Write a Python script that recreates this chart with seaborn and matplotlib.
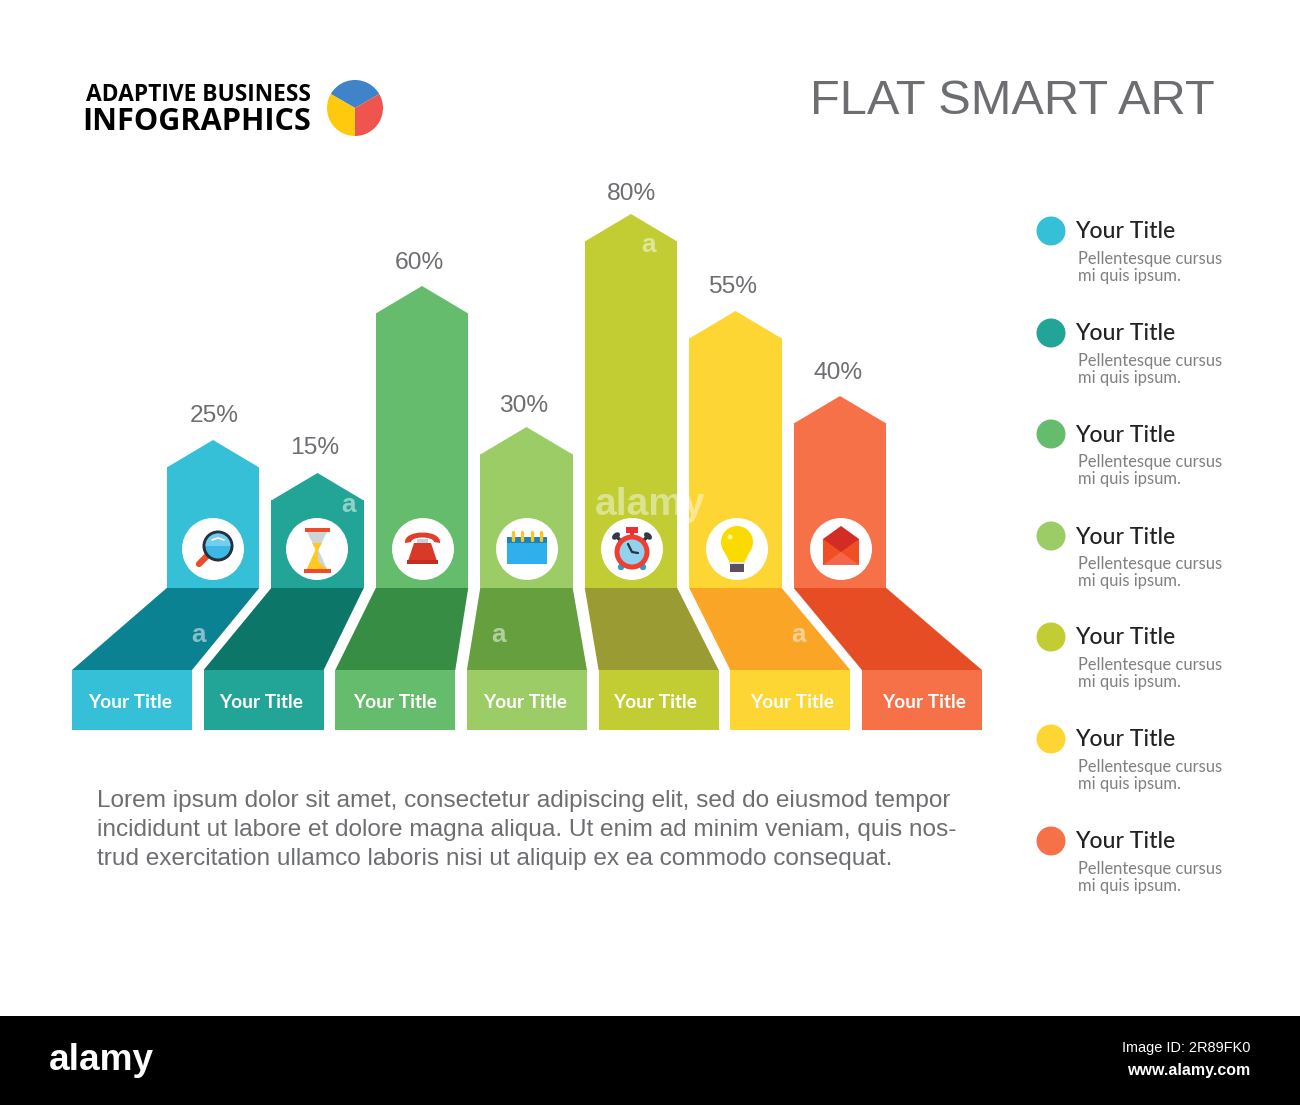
import numpy as np
import pandas as pd
import matplotlib
matplotlib.use("Agg")
import matplotlib.pyplot as plt
import seaborn as sns
from matplotlib.patches import Circle, Polygon, Rectangle, Wedge, Ellipse, PathPatch
from matplotlib.path import Path

# chart values
pct_labels = ["25%", "15%", "60%", "30%", "80%", "55%", "40%"]
# drawn arrow heights (they do not follow the percentages)
arrow_heights = [148, 115, 302, 161, 374, 277, 192]
box_titles = ["Your Title"] * 7
legend_titles = ["Your Title"] * 7
legend_line1 = ["Pellentesque cursus"] * 7
legend_line2 = ["mi quis ipsum."] * 7
body_lines = [
    "Lorem ipsum dolor sit amet, consectetur adipiscing elit, sed do eiusmod tempor",
    "incididunt ut labore et dolore magna aliqua. Ut enim ad minim veniam, quis nos-",
    "trud exercitation ullamco laboris nisi ut aliquip ex ea commodo consequat.",
]

colors = ["#35C0D8", "#22A596", "#65BC6C", "#9CCC66", "#C1CD33", "#FDD633", "#F67148"]
dark_colors = ["#0B8291", "#0C7669", "#388D45", "#659F3E", "#9A9C33", "#FAA526", "#E64D24"]

GRAY = "#6D6E71"
SANS = "Liberation Sans"
W, H = 1300, 1105


def px(size):
    # font size in picture pixels to points
    return size * 72 / 100


sns.set_theme(style="white")
plt.rcParams["font.family"] = ["Lato", "DejaVu Sans"]

fig = plt.figure(figsize=(13, 11.05), dpi=100, facecolor="white")

# bars: y is pixels above the foot line, x is category slots
FOOT_Y = 588
FIRST_X = 213
STEP_X = 104.5
BAR_W = 0.885
HEAD = 27

ax = fig.add_axes([0, 0, 1, 1])
df = pd.DataFrame({"pct": pct_labels, "height": np.array(arrow_heights) - HEAD})
sns.barplot(data=df, x="pct", y="height", hue="pct", palette=colors, order=pct_labels,
            hue_order=pct_labels, width=BAR_W, saturation=1, legend=False, linewidth=0, ax=ax)
ax.set_xlim((0 - FIRST_X) / STEP_X, (W - FIRST_X) / STEP_X)
ax.set_ylim(-(H - FOOT_Y), FOOT_Y)
ax.axis("off")

# arrow heads on top of the bars
for i, h in enumerate(arrow_heights):
    ax.add_patch(Polygon([(i - BAR_W / 2, h - HEAD - 0.5), (i, h), (i + BAR_W / 2, h - HEAD - 0.5)],
                         closed=True, fc=colors[i], ec="none"))

# everything else is placed in picture pixels
deco = fig.add_axes([0, 0, 1, 1])
deco.set_xlim(0, W)
deco.set_ylim(H, 0)
deco.axis("off")
deco.patch.set_alpha(0)

# slanted ribbons and title boxes
BOX_W = 120
for i in range(7):
    box_l = 72 + i * 131.65
    bar_c = FIRST_X + i * STEP_X
    bar_l = bar_c - BAR_W * STEP_X / 2
    bar_r = bar_c + BAR_W * STEP_X / 2
    deco.add_patch(Polygon([(bar_l, FOOT_Y), (bar_r, FOOT_Y), (box_l + BOX_W, 670), (box_l, 670)],
                           closed=True, fc=dark_colors[i], ec="none"))
    deco.add_patch(Rectangle((box_l, 670), BOX_W, 60, fc=colors[i], ec="none"))

title_centers = [130, 261, 395, 525, 655, 792, 924]
for x, t in zip(title_centers, box_titles):
    deco.text(x, 703, t, color="white", fontsize=px(19), fontweight="bold", ha="center", va="center")

# percent labels
label_xs = [214, 315, 419, 524, 631, 733, 838]
label_ys = [416, 448, 263, 406, 194, 287, 373]
for x, y, t in zip(label_xs, label_ys, pct_labels):
    deco.text(x, y, t, color=GRAY, fontsize=px(24.5), family=SANS, ha="center", va="center")


# icons, each drawn around its circle
def add_poly(points, color, z=5):
    deco.add_patch(Polygon(points, closed=True, fc=color, ec="none", zorder=z))


def icon_magnifier(x, y):
    deco.plot([x - 14, x - 4], [y + 15, y + 5], color="#EE4B2B", lw=4.5, solid_capstyle="round", zorder=5)
    deco.add_patch(Circle((x + 5, y - 3), 15.5, fc="#25313C", ec="none", zorder=6))
    deco.add_patch(Circle((x + 5, y - 3), 12.5, fc="#3DB7E4", ec="none", zorder=7))
    deco.add_patch(Wedge((x + 5, y - 3), 12.5, 180, 360, fc="#73CDEE", ec="none", zorder=8))
    deco.plot([x - 1, x + 5, x + 11], [y - 9, y - 11, y - 9], color="white", lw=1.2, zorder=9)


def icon_hourglass(x, y):
    add_poly([(x - 10, y - 17), (x + 10, y - 17), (x + 1, y + 1), (x - 1, y + 1)], "#CBD5DA")
    add_poly([(x - 5, y - 6), (x + 5, y - 6), (x + 1, y + 1), (x - 1, y + 1)], "#FFC91F", 6)
    add_poly([(x - 1, y), (x + 1, y), (x + 10, y + 20), (x - 10, y + 20)], "#CBD5DA")
    add_poly([(x - 1, y), (x + 1, y), (x + 1, y + 12), (x + 10, y + 20), (x - 10, y + 20)], "#FFC91F", 6)
    deco.add_patch(Rectangle((x - 12, y - 21), 25, 4, fc="#EE4B2B", ec="none", zorder=7))
    deco.add_patch(Rectangle((x - 13, y + 20), 27, 4, fc="#EE4B2B", ec="none", zorder=7))


def icon_phone(x, y):
    add_poly([(x - 9, y - 6), (x + 8, y - 6), (x + 15, y + 15), (x - 16, y + 15)], "#D93A28")
    deco.add_patch(Rectangle((x - 16, y + 11), 31, 4, fc="#C42E1E", ec="none", zorder=6))
    deco.add_patch(Rectangle((x - 6, y - 10), 11, 5, fc="#C9D3D8", ec="none", zorder=4))
    verts = [(x - 18, y - 6), (x - 20, y - 20), (x + 19, y - 20), (x + 17, y - 6), (x + 11, y - 7),
             (x + 10, y - 13), (x - 11, y - 13), (x - 12, y - 7), (x - 18, y - 6)]
    codes = [Path.MOVETO, Path.CURVE4, Path.CURVE4, Path.CURVE4, Path.LINETO,
             Path.CURVE4, Path.CURVE4, Path.CURVE4, Path.CLOSEPOLY]
    deco.add_patch(PathPatch(Path(verts, codes), fc="#E33E2B", ec="none", zorder=7))


def icon_calendar(x, y):
    deco.add_patch(Rectangle((x - 20, y - 12), 40, 27, fc="#2FB0EC", ec="none", zorder=5))
    deco.add_patch(Rectangle((x - 20, y - 12), 40, 6, fc="#1F83B5", ec="none", zorder=6))
    for dx in [-14, -5, 5, 14]:
        deco.plot([x + dx, x + dx], [y - 17, y - 9], color="#F8C625", lw=2.4, solid_capstyle="round", zorder=7)


def icon_clock(x, y):
    cy = y + 3
    for side in (-1, 1):
        deco.plot([x + side * 11, x + side * 15], [cy - 11, cy - 15], color="#333A44", lw=2.5, zorder=5)
        deco.add_patch(Ellipse((x + side * 16, cy - 16), 9, 6, angle=side * 40, fc="#333A44", ec="none", zorder=5))
        deco.add_patch(Circle((x + side * 11, cy + 15), 3.2, fc="#2B9BC9", ec="none", zorder=5))
    deco.add_patch(Rectangle((x - 6, cy - 25), 12, 6, fc="#EE2E35", ec="none", zorder=5))
    deco.add_patch(Rectangle((x - 2, cy - 20), 4, 4, fc="#EE2E35", ec="none", zorder=5))
    deco.add_patch(Circle((x, cy), 17.5, fc="#EE4030", ec="none", zorder=6))
    deco.add_patch(Circle((x, cy), 12.5, fc="#92D2EF", ec="none", zorder=7))
    deco.plot([x - 4, x, x + 6], [cy - 8, cy, cy + 1], color="#25313C", lw=1.6, zorder=8)


def icon_bulb(x, y):
    deco.add_patch(Circle((x, y - 7), 16, fc="#FADB00", ec="none", zorder=5))
    add_poly([(x - 15, y - 2), (x + 15, y - 2), (x + 7, y + 14), (x - 7, y + 14)], "#FADB00")
    deco.add_patch(Rectangle((x - 7, y + 14), 14, 9, fc="#5B5062", ec="none", zorder=6))
    deco.add_patch(Rectangle((x - 8, y + 13), 16, 2, fc="#E8E4DA", ec="none", zorder=7))
    deco.add_patch(Circle((x - 7, y - 12), 2.5, fc="#FFF3A0", ec="none", zorder=7))


def icon_envelope(x, y):
    add_poly([(x - 18, y - 10), (x + 18, y - 10), (x + 18, y + 16), (x - 18, y + 16)], "#F04E23")
    add_poly([(x, y - 23), (x + 18, y - 10), (x, y + 3), (x - 18, y - 10)], "#D42B24", 6)
    add_poly([(x, y + 3), (x + 18, y + 16), (x - 18, y + 16)], "#F4674A", 6)


circle_xs = [213, 317, 423, 527, 632, 737, 841]
icons = [icon_magnifier, icon_hourglass, icon_phone, icon_calendar, icon_clock, icon_bulb, icon_envelope]
for cx, draw in zip(circle_xs, icons):
    deco.add_patch(Circle((cx, 549), 31, fc="white", ec="none", zorder=4))
    draw(cx, 549)

# logo and heading
deco.text(311, 95, "ADAPTIVE BUSINESS", color="black", fontsize=px(22.8), family="Open Sans",
          fontweight="bold", ha="right", va="center")
deco.text(311, 122, "INFOGRAPHICS", color="black", fontsize=px(30.6), family="Open Sans",
          fontweight="bold", ha="right", va="center")
deco.add_patch(Wedge((355, 108), 28, 210, 330, fc="#3F83C8", ec="none"))
deco.add_patch(Wedge((355, 108), 28, -30, 90, fc="#F0544F", ec="none"))
deco.add_patch(Wedge((355, 108), 28, 90, 210, fc="#FFC90E", ec="none"))
deco.text(1215, 102, "FLAT SMART ART", color=GRAY, fontsize=px(48.7), family=SANS, ha="right", va="center")

# paragraph
for y, line in zip([801, 830, 859], body_lines):
    deco.text(97, y, line, color=GRAY, fontsize=px(24.4), family=SANS, ha="left", va="center")

# legend on the right
legend_ys = [231, 333, 434, 536, 637, 739, 841]
sns.scatterplot(x=[1051] * 7, y=legend_ys, hue=legend_ys, palette=colors, legend=False, s=436,
                linewidth=0, ax=deco)
deco.set_xlim(0, W)
deco.set_ylim(H, 0)
for y, t, l1, l2 in zip(legend_ys, legend_titles, legend_line1, legend_line2):
    deco.text(1075, y + 1, t, color="#222222", fontsize=px(23), fontweight="medium", ha="left", va="center")
    deco.text(1078, y + 28, l1, color="#808080", fontsize=px(16.5), ha="left", va="center")
    deco.text(1078, y + 45, l2, color="#808080", fontsize=px(16.5), ha="left", va="center")

# stock photo watermarks
deco.text(650, 505, "alamy", color="white", alpha=0.45, fontsize=px(39), family=SANS, fontweight="bold",
          ha="center", va="center", zorder=3)
for x, y in [(649, 245), (348, 505), (198, 635), (498, 635), (798, 635)]:
    deco.text(x, y, "a", color="white", alpha=0.5, fontsize=px(26), family=SANS, fontweight="bold",
              ha="center", va="center", zorder=3)

# black footer strip
deco.add_patch(Rectangle((0, 1016), W, H - 1016, fc="black", ec="none", zorder=10))
deco.text(101, 1060, "alamy", color="white", fontsize=px(37), family=SANS, fontweight="bold",
          ha="center", va="center", zorder=11)
deco.text(1250, 1048, "Image ID: 2R89FK0", color="white", fontsize=px(14.5), family=SANS,
          ha="right", va="center", zorder=11)
deco.text(1250, 1071, "www.alamy.com", color="white", fontsize=px(16), family=SANS, fontweight="bold",
          ha="right", va="center", zorder=11)

fig.savefig("out.png", dpi=100)
